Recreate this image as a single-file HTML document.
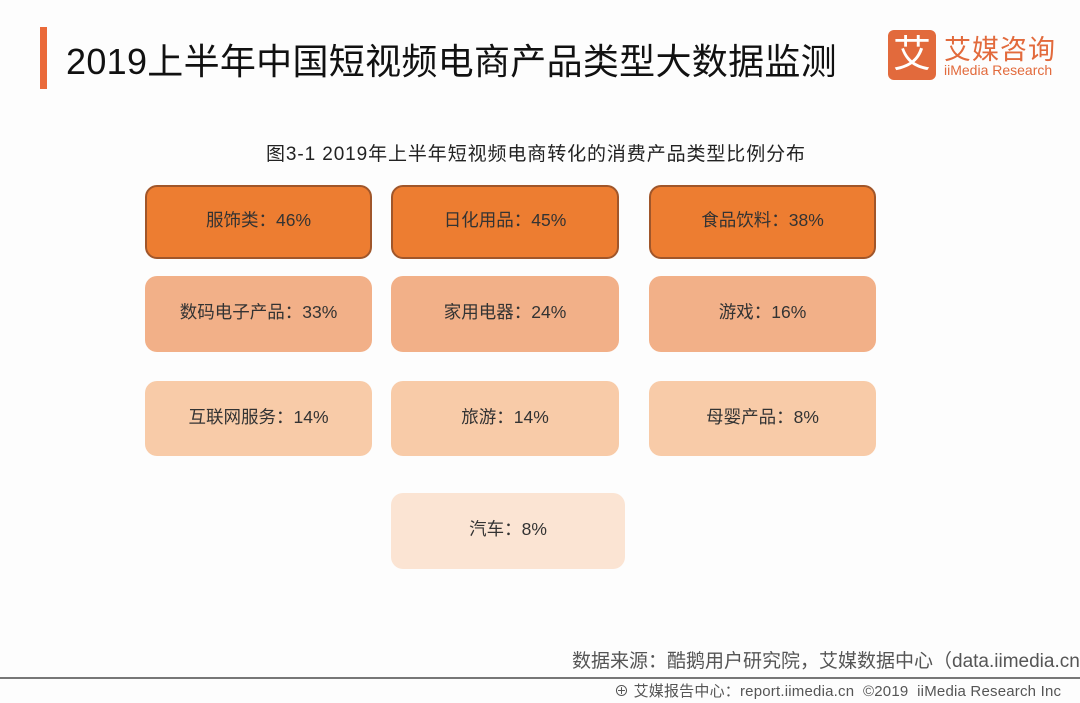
<!DOCTYPE html>
<html><head><meta charset="utf-8"><style>
body{margin:0;width:1080px;height:703px;background:#fdfdfd;position:relative;overflow:hidden;font-family:"Liberation Sans","Noto Sans CJK SC",sans-serif;}
.a{position:absolute}
.box{position:absolute;border-radius:12px;display:flex;align-items:center;justify-content:center;font-size:17.5px;color:#333;box-sizing:border-box;padding-bottom:5px}
.r1{background:#ed7d31;border:2px solid #a0562a;}
.r2{background:#f2b088}
.r3{background:#f8cba8}
.r4{background:#fbe4d3}
</style></head><body>
<div class="a" style="left:40px;top:27px;width:7px;height:62px;background:#ea6a3a"></div>
<div class="a" style="left:66px;top:37px;font-size:36px;letter-spacing:0.3px;color:#111;white-space:nowrap;line-height:50px">2019上半年中国短视频电商产品类型大数据监测</div>
<div class="a" style="left:888px;top:30px;width:48px;height:50px;background:#e26a3c;border-radius:6px;color:#fff;font-size:38px;text-align:center;line-height:50px">艾</div>
<div class="a" style="left:944px;top:28px;font-size:27px;color:#e26a3c;white-space:nowrap;letter-spacing:1px">艾媒咨询</div>
<div class="a" style="left:944px;top:62px;font-size:14px;color:#e26a3c;white-space:nowrap">iiMedia Research</div>
<div class="a" style="left:266px;top:139px;font-size:19px;letter-spacing:0.9px;color:#222;white-space:nowrap">图3-1 2019年上半年短视频电商转化的消费产品类型比例分布</div>
<div class="box r1" style="left:145px;top:185px;width:227px;height:74px">服饰类：46%</div>
<div class="box r1" style="left:391px;top:185px;width:228px;height:74px">日化用品：45%</div>
<div class="box r1" style="left:649px;top:185px;width:227px;height:74px">食品饮料：38%</div>
<div class="box r2" style="left:145px;top:276px;width:227px;height:76px">数码电子产品：33%</div>
<div class="box r2" style="left:391px;top:276px;width:228px;height:76px">家用电器：24%</div>
<div class="box r2" style="left:649px;top:276px;width:227px;height:76px">游戏：16%</div>
<div class="box r3" style="left:145px;top:381px;width:227px;height:75px">互联网服务：14%</div>
<div class="box r3" style="left:391px;top:381px;width:228px;height:75px">旅游：14%</div>
<div class="box r3" style="left:649px;top:381px;width:227px;height:75px">母婴产品：8%</div>
<div class="box r4" style="left:391px;top:493px;width:234px;height:76px">汽车：8%</div>
<div class="a" style="left:572px;top:646px;font-size:19px;color:#555;white-space:nowrap">数据来源：酷鹅用户研究院，艾媒数据中心（data.iimedia.cn)</div>
<div class="a" style="left:0;top:677px;width:1080px;height:2px;background:#777"></div>
<div class="a" style="left:614px;top:680px;font-size:15px;letter-spacing:0.2px;color:#555;white-space:nowrap">⊕ 艾媒报告中心：report.iimedia.cn &nbsp;©2019 &nbsp;iiMedia Research Inc</div>
</body></html>
